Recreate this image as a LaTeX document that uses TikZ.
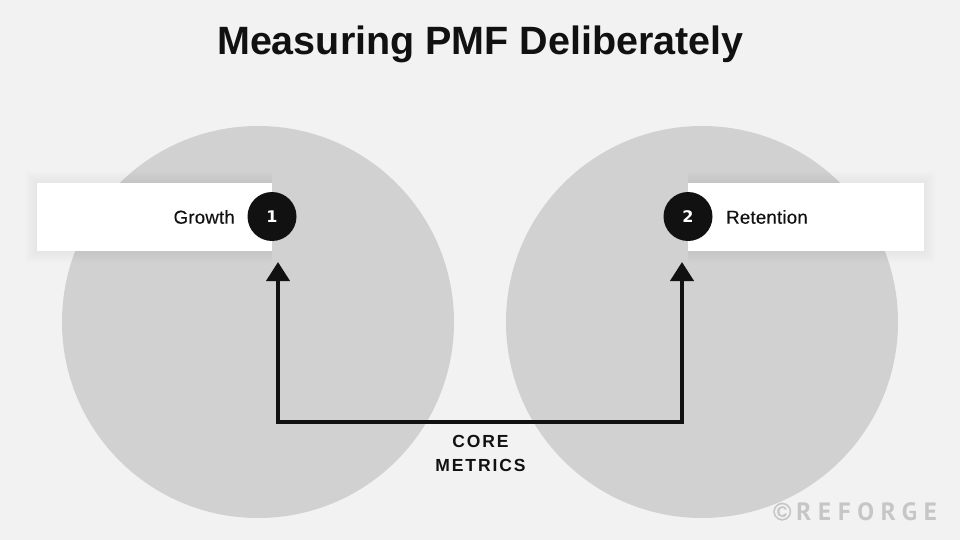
\documentclass[tikz,border=0pt]{standalone}
\usepackage{fontspec}
\setmainfont{Liberation Sans}
\newfontfamily\numfont{DejaVu Sans}
\newfontfamily\labelfont[FakeBold=0.3,LetterSpace=1]{Liberation Sans}
\newfontfamily\corefont[LetterSpace=11]{Liberation Sans}
\newfontfamily\copyfont[FakeBold=1.5]{Liberation Sans}
\newfontfamily\brandfont[LetterSpace=27]{PT Sans}
\usetikzlibrary{arrows.meta,positioning}
\definecolor{pagebg}{HTML}{F2F2F2}
\definecolor{discgray}{HTML}{D1D1D1}
\definecolor{ink}{HTML}{111111}
\definecolor{brand}{HTML}{C6C6C6}
\begin{document}
\begin{tikzpicture}[x=1pt,y=-1pt]
    \tikzstyle{bigdisc}=[fill=discgray,circle,inner sep=0pt,minimum size=392pt]
    \tikzstyle{labelbox}=[fill=white,inner sep=0pt,minimum width=236pt,minimum height=68pt]
    \tikzstyle{num}=[fill=ink,circle,inner sep=0pt,minimum size=49pt,text=white,font=\numfont\bfseries\fontsize{16}{16}\selectfont]
    \tikzstyle{boxtext}=[text=ink,inner sep=0pt,font=\labelfont\fontsize{18.7}{20}\selectfont]
    \tikzstyle{metric}=[draw=ink,line width=4pt,{Triangle[width=23pt,length=19pt]}-{Triangle[width=23pt,length=19pt]}]
    \useasboundingbox[fill=pagebg] (0,0) rectangle (960,540);
    \node[inner sep=0pt,text=ink,font=\bfseries\fontsize{39.5}{44}\selectfont] (title) at (480.5,44.5) {Measuring PMF Deliberately};
    \node[bigdisc] (growthdisc) at (258,322) {};
    \node[bigdisc] (retentiondisc) at (702,322) {};
    % soft shadow behind the boxes
    \foreach \grow in {1,2,...,12} {
      \fill[black,opacity=0.004] (37-\grow,183-\grow) rectangle (272,251+\grow);
      \fill[black,opacity=0.004] (688,183-\grow) rectangle (924+\grow,251+\grow);
    }
    \node[labelbox,minimum width=235pt] (growthbox) at (154.5,217) {};
    \node[labelbox] (retentionbox) at (806,217) {};
    \node[num] (one) at (272,216.5) {1};
    \node[num] (two) at (688,216.5) {2};
    \node[boxtext,anchor=east] (growth) at (235,217) {Growth};
    \node[boxtext,anchor=west] (retention) at (726,217) {Retention};
    \coordinate (growthtip) at (278,262);
    \coordinate (retentiontip) at (682,262);
    \coordinate (growthcorner) at (278,422);
    \coordinate (retentioncorner) at (682,422);
    \draw[metric] (growthtip) -- (growthcorner) -- (retentioncorner) -- (retentiontip);
    \node[align=center,inner sep=0pt,text=ink,font=\corefont\bfseries\fontsize{17.5}{24}\selectfont] (core) at (480.5,453.5) {CORE\\METRICS};
    \node[inner sep=0pt,text=brand,font=\fontsize{25}{25}\selectfont\bfseries] (reforge) at (855,511.5) {{\copyfont\mdseries ©}\kern5pt{\brandfont REFORGE}};
\end{tikzpicture}
\end{document}
